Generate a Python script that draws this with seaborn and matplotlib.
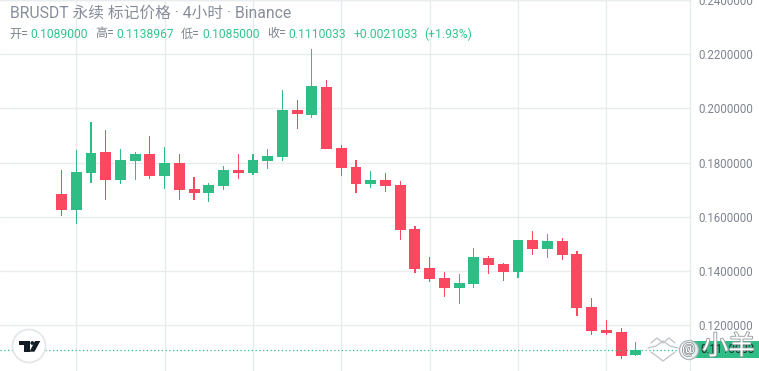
import numpy as np
import pandas as pd
import matplotlib
matplotlib.use("Agg")
import matplotlib.pyplot as plt
import matplotlib.patheffects as pe
from matplotlib.patches import Circle, Polygon, Rectangle
from matplotlib.lines import Line2D
import seaborn as sns

# values
opens = [0.1685, 0.1626, 0.1762, 0.1840, 0.1736, 0.1806, 0.1832, 0.1751, 0.1799, 0.1703,
         0.1688, 0.1714, 0.1773, 0.1762, 0.1806, 0.1821, 0.1995, 0.1976, 0.2079, 0.1854,
         0.1784, 0.1722, 0.1736, 0.1718, 0.1555, 0.1412, 0.1375, 0.1338, 0.1353, 0.1448,
         0.1426, 0.1397, 0.1515, 0.1482, 0.1511, 0.1463, 0.1268, 0.1183, 0.1175, 0.1089]
closes = [0.1626, 0.1766, 0.1836, 0.1736, 0.1810, 0.1832, 0.1751, 0.1799, 0.1699, 0.1688,
          0.1718, 0.1773, 0.1762, 0.1810, 0.1825, 0.1995, 0.1980, 0.2083, 0.1851, 0.1781,
          0.1722, 0.1736, 0.1714, 0.1552, 0.1408, 0.1371, 0.1338, 0.1356, 0.1452, 0.1423,
          0.1397, 0.1515, 0.1482, 0.1511, 0.1460, 0.1264, 0.1179, 0.1172, 0.1087, 0.1110]
highs = [0.1773, 0.1847, 0.1950, 0.1921, 0.1851, 0.1840, 0.1899, 0.1858, 0.1832, 0.1747,
         0.1725, 0.1788, 0.1832, 0.1832, 0.1851, 0.2068, 0.2032, 0.2220, 0.2105, 0.1865,
         0.1810, 0.1770, 0.1762, 0.1733, 0.1567, 0.1452, 0.1397, 0.1389, 0.1485, 0.1456,
         0.1430, 0.1515, 0.1548, 0.1537, 0.1522, 0.1474, 0.1301, 0.1220, 0.1190, 0.1139]
lows = [0.1603, 0.1574, 0.1725, 0.1662, 0.1722, 0.1736, 0.1740, 0.1703, 0.1662, 0.1662,
        0.1655, 0.1699, 0.1740, 0.1755, 0.1777, 0.1806, 0.1925, 0.1965, 0.1851, 0.1751,
        0.1688, 0.1707, 0.1693, 0.1515, 0.1393, 0.1360, 0.1305, 0.1279, 0.1338, 0.1389,
        0.1364, 0.1375, 0.1460, 0.1448, 0.1441, 0.1234, 0.1164, 0.1164, 0.1076, 0.1085]
y_ticks = [0.12, 0.14, 0.16, 0.18, 0.20, 0.22, 0.24]
x_ticks = [1, 7, 13, 19, 25, 31, 37]
last_price = 0.1110033

UP = "#2ebd85"
DOWN = "#fa4861"
GRID = "#e9ecef"
GREY = "#7e8490"
W, H = 759, 371

sns.set_theme(style="white")
plt.rcParams['font.family'] = ['Roboto', 'Noto Sans CJK SC', 'DejaVu Sans']

df = pd.DataFrame({"open": opens, "close": closes, "high": highs, "low": lows})
df["idx"] = df.index
df["dir"] = np.where(df.close >= df.open, "up", "down")
df["body"] = (df.close - df.open).abs()
df["bot"] = df[["open", "close"]].min(axis=1)
df["wick"] = df.high - df.low

fig = plt.figure(figsize=(W / 100, H / 100), dpi=100)
ax = fig.add_axes([0, 0, 690.3 / W, 1])

for direction, color in [("up", UP), ("down", DOWN)]:
    part = df[df["dir"] == direction]
    sns.barplot(data=part, x="idx", y="wick", color=color, native_scale=True, bottom=part.low.values,
                width=0.08, saturation=1, errorbar=None, linewidth=0, ax=ax)
    sns.barplot(data=part, x="idx", y="body", color=color, native_scale=True, bottom=part.bot.values,
                width=0.74, saturation=1, errorbar=None, linewidth=0, ax=ax)

ax.set_xlim(-4.18, 42.7)
ax.set_ylim(0.1031, 0.24004)
ax.set_xticks(x_ticks)
ax.set_xticklabels([])
ax.set_yticks(y_ticks)
ax.set_yticklabels(["%.7f" % t for t in y_ticks])
ax.yaxis.tick_right()
ax.tick_params(axis="y", length=0, pad=5.5, labelsize=8.3, labelcolor=GREY)
ax.tick_params(axis="x", length=0)
ax.set_xlabel("")
ax.set_ylabel("")
ax.grid(True, color=GRID, linewidth=1)
ax.set_axisbelow(True)
for name, spine in ax.spines.items():
    spine.set_visible(name in ("right", "top"))
    spine.set_color(GRID)
    spine.set_linewidth(1)
ax.axhline(last_price, color=UP, linestyle=(0, (1, 2)), linewidth=0.9, zorder=1)


def px(x, y):
    return x / W, 1 - y / H


def label(x, y, s, **kw):
    fig.text(*px(x, y), s, va="center", ha="left", **kw)


# header
label(10, 13, "BRUSDT 永续 标记价格 · 4小时 · Binance", fontsize=11.3, color="#878d9a")
for x, s in [(9, "开="), (95, "高="), (181, "低="), (267, "收=")]:
    label(x, 34, s, fontsize=8.7, color=GREY)
for x, s in [(30, "0.1089000"), (116, "0.1138967"), (202, "0.1085000"), (288, "0.1110033"),
             (354, "+0.0021033"), (424, "(+1.93%)")]:
    label(x, 34, s, fontsize=8.7, color="#35c48d")

# last price tag
fig.add_artist(Rectangle(px(691, 358), 68 / W, 17 / H, transform=fig.transFigure, color=UP, lw=0))
label(700, 349.5, "0.1110033", fontsize=8.3, color="#15302a")


def poly(points, **kw):
    fig.add_artist(Polygon([px(*p) for p in points], closed=True, transform=fig.transFigure, lw=0, **kw))


# logo
fig.add_artist(Circle((29, H - 346), 16.5, transform=None, facecolor="white", edgecolor="#e2e5e9", linewidth=1.2))
poly([(19, 341), (29.5, 341), (29.5, 351.7), (24, 351.7), (24, 345), (19, 345)], color="#131c22")
poly([(35, 341), (40.3, 341), (34.5, 351.7), (29.5, 351.7)], color="#131c22")
fig.add_artist(Circle((32.3, H - 343), 1.9, transform=None, color="#131c22", lw=0))

# watermark on top
for xs, ys in [([651, 657, 663, 669, 675], [343, 338, 343, 338, 343]),
               ([648, 656, 663, 670, 678], [348, 346, 341, 346, 348]),
               ([651, 663, 675], [352, 361, 352])]:
    fig.add_artist(Line2D([x / W for x in xs], [1 - y / H for y in ys], transform=fig.transFigure,
                          color="#c3c7cc", linewidth=1))
fig.add_artist(Circle((689, H - 350), 9.5, transform=None, facecolor="white", edgecolor="#a7adb3", linewidth=1, alpha=0.85))
outline = [pe.withStroke(linewidth=1.2, foreground="#8f9499")]
label(682, 349, "@", fontsize=10.5, color="white", path_effects=outline)
label(702, 347, "小羊", fontsize=19, color="white", path_effects=outline)

fig.savefig("out.png", dpi=100)
